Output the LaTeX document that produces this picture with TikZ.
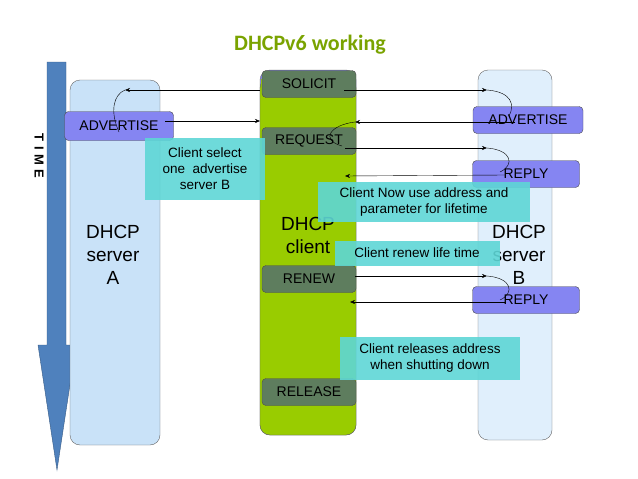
\documentclass[tikz,border=0pt]{standalone}
\usepackage{fontspec}
\setmainfont{Liberation Sans}
\newfontfamily\titlefont{Carlito}
\usetikzlibrary{arrows.meta}
\definecolor{cgreen}{HTML}{99CC00}
\definecolor{dgreen}{HTML}{5E7D5E}
\definecolor{msgblue}{HTML}{8585F2}
\definecolor{notecyan}{HTML}{5ED6D6}
\definecolor{timeblue}{HTML}{4F81BD}
\definecolor{lanea}{HTML}{C9E2F8}
\definecolor{laneb}{HTML}{E0EFFC}
\begin{document}
\begin{tikzpicture}[x=1pt,y=-1pt,
  lane/.style={draw=gray!80!black,rounded corners=10pt},
  msg/.style={draw=black!70,rounded corners=4pt,fill=dgreen,font=\fontsize{14}{16}\selectfont,inner sep=0pt},
  adv/.style={draw=black!70,rounded corners=4pt,fill=msgblue,font=\fontsize{14}{16}\selectfont,inner sep=0pt},
  note/.style={fill=notecyan,fill opacity=0.9,text opacity=1,align=center,inner sep=0pt,font=\fontsize{13.5}{16}\selectfont},
  big/.style={align=center,font=\fontsize{19}{23}\selectfont},
  arr/.style={-{Stealth[length=5pt,width=4pt]},thin},
  crv/.style={thin}]
\useasboundingbox (0,0) rectangle (638,479);
\node[font=\titlefont\bfseries\fontsize{22}{26}\selectfont,text=cgreen!80!black] (title) at (310,45) {DHCPv6 working};
% time arrow
\draw[fill=timeblue,draw=timeblue!70!black] (47,62) -- (66,62) -- (66,345) -- (76,345) -- (57,470) -- (38,345) -- (47,345) -- cycle;
\node[rotate=-90,font=\bfseries\fontsize{13}{15}\selectfont] (time) at (39,156) {T\,\,I\,\,M\,\,E};
% lanes
\draw[lane,fill=lanea] (70,80) rectangle (160,445);
\node[big] (srva) at (113,255) {DHCP\\server\\A};
\draw[lane,fill=msgblue] (260,70) rectangle (356,435);
\draw[lane,fill=cgreen,draw=black!60] (260,78) rectangle (356,435);
\fill[cgreen] (261,79) rectangle (355,100);
\node[big] (cli) at (308,235) {DHCP\\client};
\draw[lane,fill=laneb] (478,70) rectangle (552,440);
\node[big] (srvb) at (519,255) {DHCP\\server\\B};
% message boxes
\node[msg,minimum width=94pt,minimum height=27pt] (sol) at (309,84) {SOLICIT};
\node[msg,minimum width=94pt,minimum height=27pt] (req) at (309,141) {REQUEST};
\node[msg,minimum width=94pt,minimum height=27pt] (ren) at (309,279) {RENEW};
\node[msg,minimum width=94pt,minimum height=27pt] (rel) at (309,392) {RELEASE};
\node[adv,minimum width=109pt,minimum height=29pt] (adva) at (119,126) {ADVERTISE};
\node[adv,minimum width=110pt,minimum height=27pt] (advb) at (528,120) {ADVERTISE};
\node[adv,minimum width=107pt,minimum height=27pt] (rep1) at (526,174) {REPLY};
\node[adv,minimum width=107pt,minimum height=27pt] (rep2) at (526,300) {REPLY};
% connectors
\coordinate (s1) at (355,90); \coordinate (s2) at (487,90);
\coordinate (sa) at (125,90);
\draw[crv] (344,90) -- (s1);
\draw[arr] (s1) -- (s2);
\draw[crv] (s2) .. controls (512,92) and (515,105) .. (509,116);
\draw[arr] (260,90) -- (sa);
\draw[crv] (119,132) .. controls (110,112) and (113,95) .. (sa);
\coordinate (a1) at (260,121);
\draw[arr] (165,121) -- (a1);
\coordinate (b1) at (355,122);
\draw[arr] (515,122) -- (b1);
\draw[crv] (b1) .. controls (330,125) and (320,140) .. (342,146);
\coordinate (r1) at (487,148);
\draw[arr] (345,148) -- (r1);
\draw[crv] (r1) .. controls (512,150) and (515,165) .. (500,172);
\coordinate (r2) at (345,176);
\draw[arr] (505,175) -- (r2);
\coordinate (n1) at (487,276);
\draw[arr] (355,276) -- (n1);
\draw[crv] (n1) .. controls (512,278) and (515,293) .. (500,300);
\coordinate (n2) at (350,302);
\draw[arr] (505,302) -- (n2);
% notes
\node[note,minimum width=120pt,minimum height=62pt] (n_sel) at (205,169) {Client select\\one\ \ advertise\\server B};
\node[note,minimum width=212pt,minimum height=40pt] (n_now) at (424,202) {Client Now use address and\\parameter for lifetime};
\node[note,minimum width=165pt,minimum height=25pt] (n_ren) at (417,253) {Client renew life time};
\node[note,minimum width=180pt,minimum height=43pt] (n_rel) at (430,358) {Client releases address\\when shutting down};
\end{tikzpicture}
\end{document}
